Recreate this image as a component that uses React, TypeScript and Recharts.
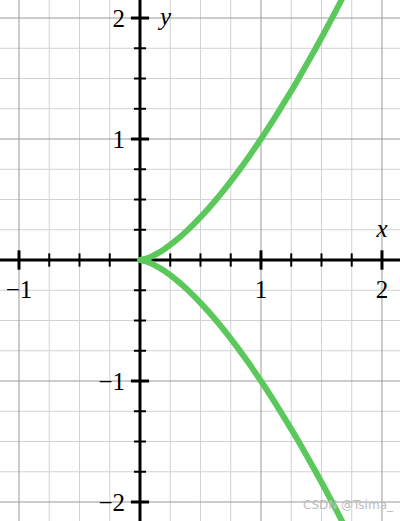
import React from 'react';
import { LineChart, Line, XAxis, YAxis, ReferenceLine, ReferenceDot } from 'recharts';

// points (upper and lower branch of the cusp)
const curveX = [0, 0.05, 0.1, 0.15, 0.2, 0.3, 0.4, 0.5, 0.6, 0.7, 0.8, 0.9, 1.0, 1.1, 1.2, 1.3, 1.4, 1.5, 1.6, 1.7, 1.75];
const upperY = [0, 0.011, 0.032, 0.058, 0.089, 0.164, 0.253, 0.354, 0.465, 0.586, 0.716, 0.854, 1.0, 1.154, 1.315, 1.482, 1.657, 1.837, 2.024, 2.217, 2.315];
const lowerY = [0, -0.011, -0.032, -0.058, -0.089, -0.164, -0.253, -0.354, -0.465, -0.586, -0.716, -0.854, -1.0, -1.154, -1.315, -1.482, -1.657, -1.837, -2.024, -2.217, -2.315];

const xDomain = [-1.157, 2.149];
const yDomain = [-2.157, 2.149];

const majorX = [-1, 1, 2];
const majorY = [-2, -1, 1, 2];
const minorX = [-1.25, -0.75, -0.5, -0.25, 0.25, 0.5, 0.75, 1.25, 1.5, 1.75];
const minorY = [-1.75, -1.5, -1.25, -0.75, -0.5, -0.25, 0.25, 0.5, 0.75, 1.25, 1.5, 1.75];
const xTickLabels = ['\u22121', '1', '2'];
const yTickLabels = ['\u22122', '\u22121', '1', '2'];

const upperData = curveX.map((x, i) => ({ x, y: upperY[i] }));
const lowerData = curveX.map((x, i) => ({ x, y: lowerY[i] }));

const labelStyle = { fontFamily: "'Liberation Serif', 'DejaVu Serif', serif", fontSize: 25, fill: '#000' };

export default function App() {
  return (
    <div style={{ position: 'absolute', left: 0, top: 0, width: 400, height: 521, background: '#fff' }}>
      <LineChart width={400} height={521} margin={{ top: 0, right: 0, bottom: 0, left: 0 }}>
        <XAxis type="number" dataKey="x" domain={xDomain} hide allowDataOverflow />
        <YAxis type="number" dataKey="y" domain={yDomain} hide allowDataOverflow />

        {/* grid */}
        {minorX.map((v) => (
          <ReferenceLine key={'gx' + v} x={v} stroke="#d2d2d2" strokeWidth={1} />
        ))}
        {minorY.map((v) => (
          <ReferenceLine key={'gy' + v} y={v} stroke="#d2d2d2" strokeWidth={1} />
        ))}
        {majorX.map((v) => (
          <ReferenceLine key={'Gx' + v} x={v} stroke="#999" strokeWidth={1} />
        ))}
        {majorY.map((v) => (
          <ReferenceLine key={'Gy' + v} y={v} stroke="#999" strokeWidth={1} />
        ))}

        {/* axes */}
        <ReferenceLine x={0} stroke="#000" strokeWidth={3} />
        <ReferenceLine y={0} stroke="#000" strokeWidth={3} />

        {/* tick marks */}
        {minorX.map((v) => (
          <ReferenceLine key={'tx' + v} segment={[{ x: v, y: -0.055 }, { x: v, y: 0.055 }]} stroke="#000" strokeWidth={2} />
        ))}
        {minorY.map((v) => (
          <ReferenceLine key={'ty' + v} segment={[{ x: -0.05, y: v }, { x: 0.05, y: v }]} stroke="#000" strokeWidth={2} />
        ))}
        {majorX.map((v) => (
          <ReferenceLine key={'Tx' + v} segment={[{ x: v, y: -0.08 }, { x: v, y: 0.08 }]} stroke="#000" strokeWidth={3} />
        ))}
        {majorY.map((v) => (
          <ReferenceLine key={'Ty' + v} segment={[{ x: -0.075, y: v }, { x: 0.075, y: v }]} stroke="#000" strokeWidth={3} />
        ))}

        <Line data={upperData} dataKey="y" type="natural" stroke="#5ac85a" strokeWidth={6} strokeLinecap="round" dot={false} activeDot={false} isAnimationActive={false} />
        <Line data={lowerData} dataKey="y" type="natural" stroke="#5ac85a" strokeWidth={6} strokeLinecap="round" dot={false} activeDot={false} isAnimationActive={false} />

        {/* tick labels */}
        {majorX.map((v, i) => (
          <ReferenceDot
            key={'lx' + v}
            x={v}
            y={0}
            r={0}
            shape={(p: any) => (
              <text x={p.cx} y={p.cy + 38} textAnchor="middle" style={labelStyle}>
                {xTickLabels[i]}
              </text>
            )}
          />
        ))}
        {majorY.map((v, i) => (
          <ReferenceDot
            key={'ly' + v}
            x={0}
            y={v}
            r={0}
            shape={(p: any) => (
              <text x={p.cx - 15} y={p.cy + 8.5} textAnchor="end" style={labelStyle}>
                {yTickLabels[i]}
              </text>
            )}
          />
        ))}

        {/* axis names */}
        <ReferenceDot
          x={0}
          y={yDomain[1]}
          r={0}
          ifOverflow="visible"
          shape={(p: any) => (
            <text x={p.cx + 20} y={p.cy + 25} style={{ ...labelStyle, fontStyle: 'italic' }}>
              y
            </text>
          )}
        />
        <ReferenceDot
          x={2}
          y={0}
          r={0}
          shape={(p: any) => (
            <text x={p.cx} y={p.cy - 23} textAnchor="middle" style={{ ...labelStyle, fontStyle: 'italic' }}>
              x
            </text>
          )}
        />
      </LineChart>
      <div
        style={{
          position: 'absolute',
          left: 303,
          top: 498,
          fontFamily: "'DejaVu Sans', sans-serif",
          fontSize: 12,
          color: '#bdbdbd',
          whiteSpace: 'nowrap',
        }}
      >
        CSDN @Tsima_
      </div>
    </div>
  );
}
